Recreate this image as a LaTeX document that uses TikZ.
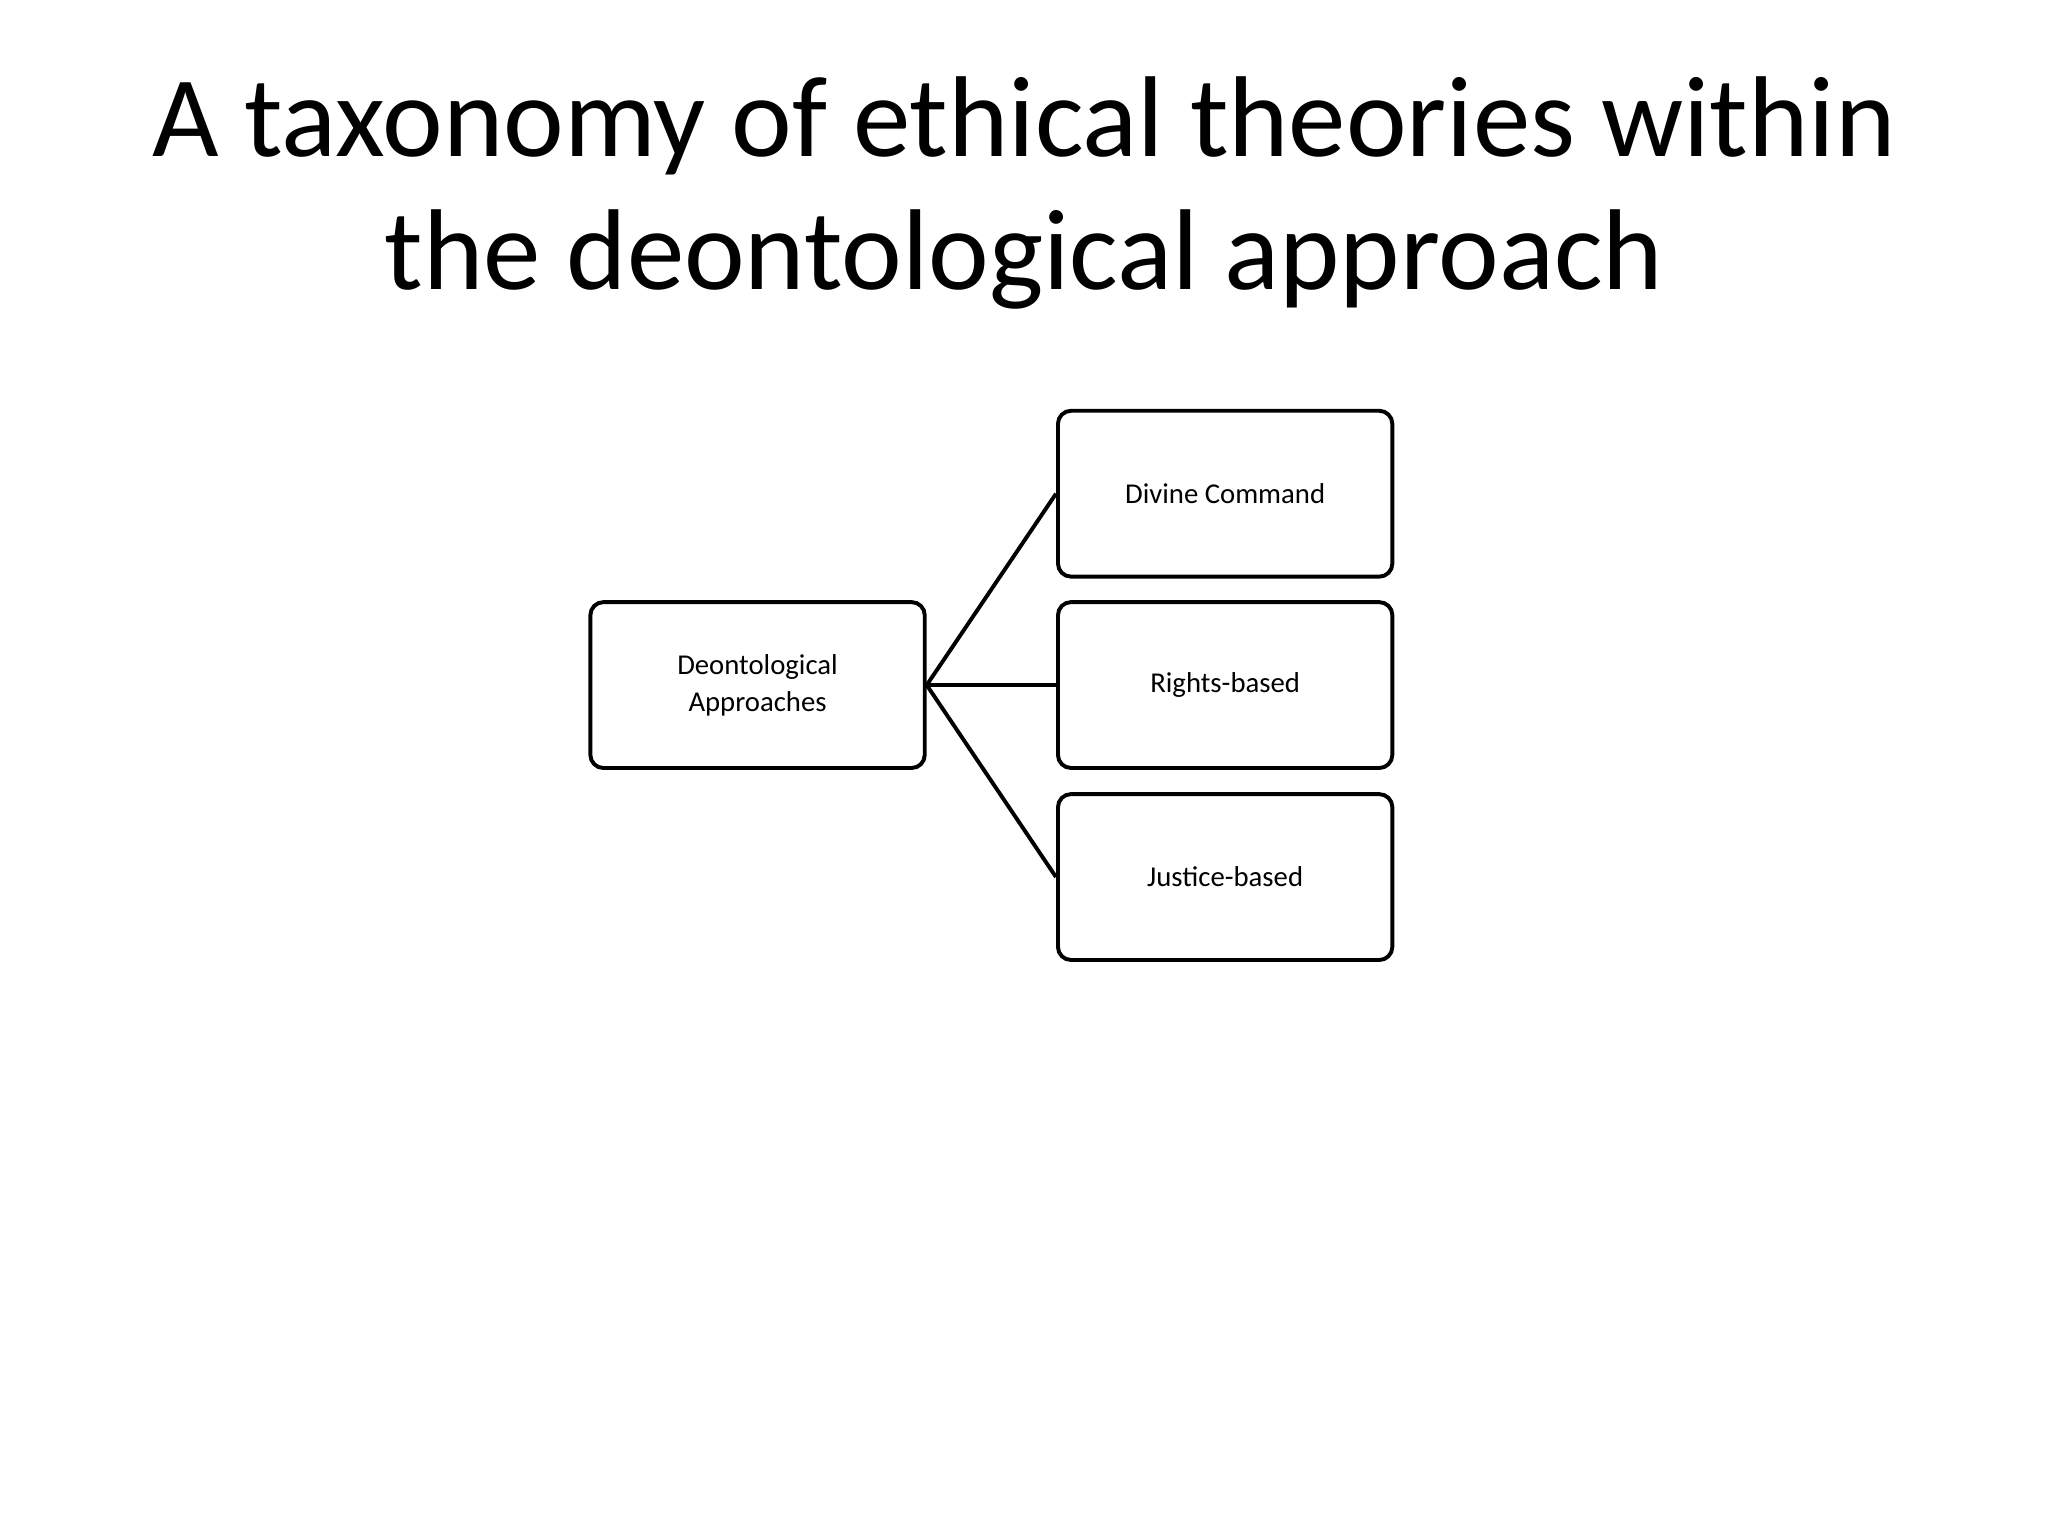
\documentclass[tikz,border=0pt]{standalone}
\usepackage{fontspec}
\setmainfont{Carlito}
\begin{document}
\begin{tikzpicture}[x=0.5pt,y=-0.5pt,
  box/.style={draw,line width=1.5pt,rounded corners=5pt,minimum width=128pt,minimum height=63.5pt,align=center,font=\fontsize{11}{14}\selectfont,inner sep=0pt},
  link/.style={line width=1.5pt}]
\useasboundingbox (0,0) rectangle (1568,1176);
\node[align=center,font=\fontsize{44}{51}\selectfont] (title) at (784,148) {A taxonomy of ethical theories within\\the deontological approach};
\node[box] (root) at (580,524.5) {Deontological\\Approaches};
\node[box] (dc) at (938,378) {Divine Command};
\node[box] (rb) at (938,524.5) {Rights-based};
\node[box] (jb) at (938,671.5) {Justice-based};
\draw[link] (root.east) -- (dc.west);
\draw[link] (root.east) -- (rb.west);
\draw[link] (root.east) -- (jb.west);
\end{tikzpicture}
\end{document}
